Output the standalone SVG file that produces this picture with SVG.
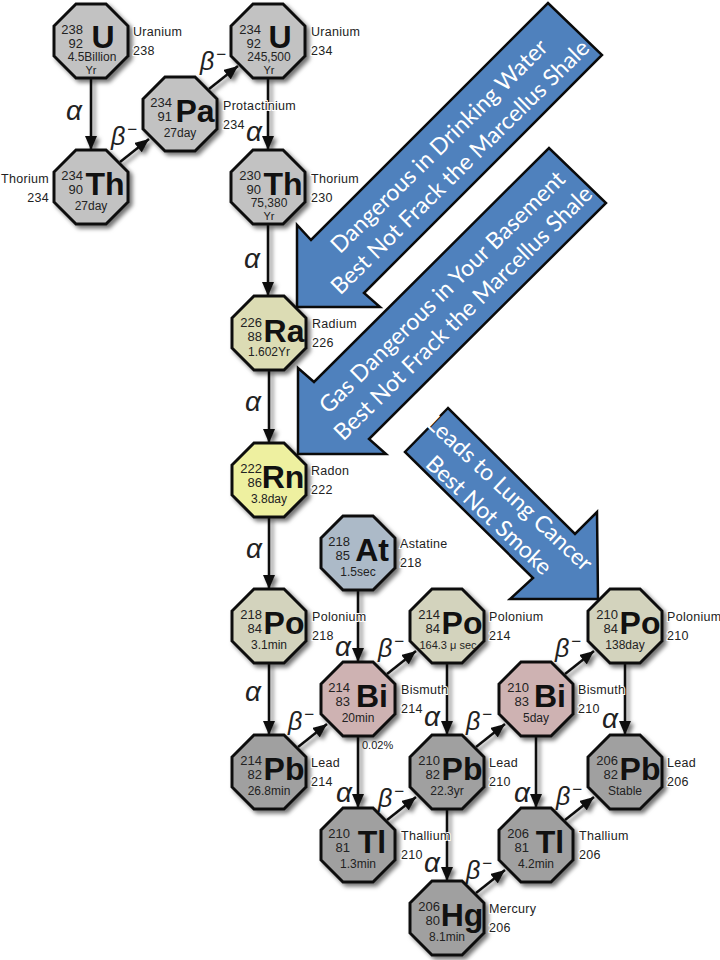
<svg xmlns="http://www.w3.org/2000/svg" width="720" height="960" viewBox="0 0 720 960">
<style>
text{font-family:"Liberation Sans",Arial,sans-serif;fill:#222}
.o{stroke:#111;stroke-width:3;stroke-linejoin:miter}
.gray{fill:#c2c2c2}.ra{fill:#dcdcb4}.rn{fill:#eef0a0}.po{fill:#d3d3bd}.at{fill:#acbac8}.bi{fill:#ceb2b2}.pb{fill:#a0a0a0}
.s{font-weight:bold;font-size:32px;text-anchor:middle;fill:#111}
.n{font-size:13px;text-anchor:end}
.h{font-size:12px;text-anchor:middle}
.y{font-size:11px;text-anchor:middle}
.l{font-size:12.5px;letter-spacing:.3px;paint-order:stroke;stroke:#fff;stroke-width:2px}
.le{text-anchor:end}
.g{font-size:28px;font-style:italic;fill:#222}
.b{font-size:25px;font-style:italic;fill:#222}
.b tspan{font-size:17px;font-style:normal}
.c line{stroke:#111;stroke-width:2.5;marker-end:url(#ah)}
.ar{fill:#4f81bd;stroke:#0a0a0a;stroke-width:2.5}
.t{font-family:Lato,"Open Sans",sans-serif;font-size:23px;fill:#fff;text-anchor:middle}
</style>
<defs>
<polygon id="oct" class="o" points="-15,-37 15,-37 37,-15 37,15 15,37 -15,37 -37,15 -37,-15"/>
<marker id="ah" viewBox="0 0 14 12" refX="14" refY="6" markerWidth="14" markerHeight="12" markerUnits="userSpaceOnUse" orient="auto"><path d="M0,0L14,6L0,12Z" fill="#111"/></marker>
<filter id="sh" x="-20%" y="-20%" width="150%" height="150%"><feDropShadow dx="3" dy="3" stdDeviation="2" flood-color="#000" flood-opacity=".55"/></filter>
</defs>
<rect width="720" height="960" fill="#fff"/>
<g id="connectors" class="c" filter="url(#sh)">
<line x1="91" y1="78" x2="91" y2="150"/>
<line x1="268" y1="78" x2="268" y2="150"/>
<line x1="268" y1="224" x2="268" y2="296"/>
<line x1="269" y1="370" x2="269" y2="443"/>
<line x1="269" y1="517" x2="269" y2="589"/>
<line x1="269" y1="663" x2="269" y2="735"/>
<line x1="358" y1="590" x2="358" y2="662"/>
<line x1="358" y1="736" x2="358" y2="808"/>
<line x1="447" y1="663" x2="447" y2="735"/>
<line x1="447" y1="809" x2="447" y2="881"/>
<line x1="536" y1="736" x2="536" y2="808"/>
<line x1="625" y1="663" x2="625" y2="735"/>
<line x1="120" y1="162" x2="149" y2="139"/>
<line x1="209" y1="89" x2="238" y2="66"/>
<line x1="298" y1="747" x2="327" y2="724"/>
<line x1="387" y1="674" x2="416" y2="651"/>
<line x1="387" y1="820" x2="416" y2="797"/>
<line x1="476" y1="747" x2="505" y2="724"/>
<line x1="565" y1="674" x2="594" y2="651"/>
<line x1="565" y1="820" x2="594" y2="797"/>
<line x1="476" y1="893" x2="505" y2="870"/>
</g>
<g id="decay-labels">
<text class="g" x="66" y="120">α</text>
<text class="g" x="246" y="141">α</text>
<text class="g" x="244" y="268">α</text>
<text class="g" x="245" y="411">α</text>
<text class="g" x="246" y="558">α</text>
<text class="g" x="245" y="701">α</text>
<text class="g" x="335" y="656">α</text>
<text class="g" x="336" y="802">α</text>
<text class="g" x="424" y="726">α</text>
<text class="g" x="424" y="872">α</text>
<text class="g" x="514" y="802">α</text>
<text class="g" x="602" y="728">α</text>
<text class="b" x="111" y="145">β<tspan dx="2" dy="-10">−</tspan></text>
<text class="b" x="200" y="70">β<tspan dx="2" dy="-10">−</tspan></text>
<text class="b" x="288" y="730">β<tspan dx="2" dy="-10">−</tspan></text>
<text class="b" x="378" y="657">β<tspan dx="2" dy="-10">−</tspan></text>
<text class="b" x="378" y="807">β<tspan dx="2" dy="-10">−</tspan></text>
<text class="b" x="466" y="730">β<tspan dx="2" dy="-10">−</tspan></text>
<text class="b" x="555" y="657">β<tspan dx="2" dy="-10">−</tspan></text>
<text class="b" x="556" y="805">β<tspan dx="2" dy="-10">−</tspan></text>
<text class="b" x="466" y="879">β<tspan dx="2" dy="-10">−</tspan></text>
</g>
<g id="u238" transform="translate(91 41)"><use href="#oct" class="gray" filter="url(#sh)"/><text class="n" x="-8" y="-7">238</text><text class="n" x="-8" y="7">92</text><text class="s" x="12" y="7">U</text><text class="h" x="1" y="20">4.5Billion</text><text class="y" x="0" y="33">Yr</text><text class="l" x="42" y="-5">Uranium</text><text class="l" x="42" y="14">238</text></g>
<g id="th234" transform="translate(91 187)"><use href="#oct" class="gray" filter="url(#sh)"/><text class="n" x="-8" y="-7">234</text><text class="n" x="-8" y="7">90</text><text class="s" x="14" y="8">Th</text><text class="h" x="0" y="23">27day</text><text class="l le" x="-42" y="-4">Thorium</text><text class="l le" x="-42" y="15">234</text></g>
<g id="pa234" transform="translate(180 114)"><use href="#oct" class="gray" filter="url(#sh)"/><text class="n" x="-8" y="-7">234</text><text class="n" x="-8" y="7">91</text><text class="s" x="15" y="8">Pa</text><text class="h" x="0" y="23">27day</text><text class="l" x="43" y="-4">Protactinium</text><text class="l" x="43" y="15">234</text></g>
<g id="u234" transform="translate(268 41)"><use href="#oct" class="gray" filter="url(#sh)"/><text class="n" x="-7" y="-7">234</text><text class="n" x="-7" y="7">92</text><text class="s" x="12" y="7">U</text><text class="h" x="1" y="20">245,500</text><text class="y" x="1" y="33">Yr</text><text class="l" x="43" y="-5">Uranium</text><text class="l" x="43" y="14">234</text></g>
<g id="th230" transform="translate(268 187)"><use href="#oct" class="gray" filter="url(#sh)"/><text class="n" x="-7" y="-7">230</text><text class="n" x="-7" y="7">90</text><text class="s" x="15" y="8">Th</text><text class="h" x="1" y="20">75,380</text><text class="y" x="1" y="33">Yr</text><text class="l" x="43" y="-4">Thorium</text><text class="l" x="43" y="15">230</text></g>
<g id="ra226" transform="translate(269 333)"><use href="#oct" class="ra" filter="url(#sh)"/><text class="n" x="-7" y="-6">226</text><text class="n" x="-7" y="8">88</text><text class="s" x="15" y="9">Ra</text><text class="h" x="0" y="23">1.602Yr</text><text class="l" x="43" y="-5">Radium</text><text class="l" x="43" y="14">226</text></g>
<g id="rn222" transform="translate(269 480)"><use href="#oct" class="rn" filter="url(#sh)"/><text class="n" x="-7" y="-7">222</text><text class="n" x="-7" y="7">86</text><text class="s" x="14" y="8">Rn</text><text class="h" x="0" y="23">3.8day</text><text class="l" x="42" y="-5">Radon</text><text class="l" x="42" y="14">222</text></g>
<g id="at218" transform="translate(358 553)"><use href="#oct" class="at" filter="url(#sh)"/><text class="n" x="-8" y="-7">218</text><text class="n" x="-8" y="7">85</text><text class="s" x="14" y="8">At</text><text class="h" x="0" y="23">1.5sec</text><text class="l" x="42" y="-5">Astatine</text><text class="l" x="42" y="14">218</text></g>
<g id="po218" transform="translate(269 626)"><use href="#oct" class="po" filter="url(#sh)"/><text class="n" x="-7" y="-7">218</text><text class="n" x="-7" y="7">84</text><text class="s" x="15" y="8">Po</text><text class="h" x="0" y="23">3.1min</text><text class="l" x="43" y="-5">Polonium</text><text class="l" x="43" y="14">218</text></g>
<g id="po214" transform="translate(447 626)"><use href="#oct" class="po" filter="url(#sh)"/><text class="n" x="-7" y="-7">214</text><text class="n" x="-7" y="7">84</text><text class="s" x="15" y="8">Po</text><text class="y" x="1" y="23">164.3 μ sec</text><text class="l" x="42" y="-5">Polonium</text><text class="l" x="42" y="14">214</text></g>
<g id="bi214" transform="translate(358 699)"><use href="#oct" class="bi" filter="url(#sh)"/><text class="n" x="-8" y="-7">214</text><text class="n" x="-8" y="7">83</text><text class="s" x="14" y="8">Bi</text><text class="h" x="0" y="23">20min</text><text class="l" x="43" y="-5">Bismuth</text><text class="l" x="43" y="14">214</text><text class="y" style="text-anchor:start" x="4" y="50">0.02%</text></g>
<g id="po210" transform="translate(625 626)"><use href="#oct" class="po" filter="url(#sh)"/><text class="n" x="-7" y="-7">210</text><text class="n" x="-7" y="7">84</text><text class="s" x="15" y="8">Po</text><text class="h" x="0" y="23">138day</text><text class="l" x="42" y="-5">Polonium</text><text class="l" x="42" y="14">210</text></g>
<g id="bi210" transform="translate(536 699)"><use href="#oct" class="bi" filter="url(#sh)"/><text class="n" x="-7" y="-7">210</text><text class="n" x="-7" y="7">83</text><text class="s" x="14" y="8">Bi</text><text class="h" x="0" y="23">5day</text><text class="l" x="42" y="-5">Bismuth</text><text class="l" x="42" y="14">210</text></g>
<g id="pb214" transform="translate(269 772)"><use href="#oct" class="pb" filter="url(#sh)"/><text class="n" x="-7" y="-7">214</text><text class="n" x="-7" y="7">82</text><text class="s" x="15" y="8">Pb</text><text class="h" x="0" y="23">26.8min</text><text class="l" x="42" y="-5">Lead</text><text class="l" x="42" y="14">214</text></g>
<g id="pb210" transform="translate(447 772)"><use href="#oct" class="pb" filter="url(#sh)"/><text class="n" x="-7" y="-7">210</text><text class="n" x="-7" y="7">82</text><text class="s" x="15" y="8">Pb</text><text class="h" x="0" y="23">22.3yr</text><text class="l" x="42" y="-5">Lead</text><text class="l" x="42" y="14">210</text></g>
<g id="pb206" transform="translate(625 772)"><use href="#oct" class="pb" filter="url(#sh)"/><text class="n" x="-7" y="-7">206</text><text class="n" x="-7" y="7">82</text><text class="s" x="15" y="8">Pb</text><text class="h" x="0" y="23">Stable</text><text class="l" x="42" y="-5">Lead</text><text class="l" x="42" y="14">206</text></g>
<g id="tl210" transform="translate(358 845)"><use href="#oct" class="pb" filter="url(#sh)"/><text class="n" x="-8" y="-7">210</text><text class="n" x="-8" y="7">81</text><text class="s" x="14" y="8">Tl</text><text class="h" x="0" y="23">1.3min</text><text class="l" x="43" y="-5">Thallium</text><text class="l" x="43" y="14">210</text></g>
<g id="tl206" transform="translate(536 845)"><use href="#oct" class="pb" filter="url(#sh)"/><text class="n" x="-7" y="-7">206</text><text class="n" x="-7" y="7">81</text><text class="s" x="14" y="8">Tl</text><text class="h" x="0" y="23">4.2min</text><text class="l" x="43" y="-5">Thallium</text><text class="l" x="43" y="14">206</text></g>
<g id="hg206" transform="translate(447 918)"><use href="#oct" class="pb" filter="url(#sh)"/><text class="n" x="-7" y="-7">206</text><text class="n" x="-7" y="7">80</text><text class="s" x="15" y="8">Hg</text><text class="h" x="0" y="23">8.1min</text><text class="l" x="42" y="-5">Mercury</text><text class="l" x="42" y="14">206</text></g>
<g id="arrow-water">
<polygon class="ar" points="297,307 297,225 311,240 548,3 602,55 364,293 380,307"/>
<text class="t" transform="rotate(-44.5 439 146)" x="439" y="154">Dangerous in Drinking Water</text>
<text class="t" transform="rotate(-44.5 460 167)" x="460" y="175">Best Not Frack the Marcellus Shale</text>
</g>
<g id="arrow-gas">
<polygon class="ar" points="298,454 298,368 314,382 549,148 606,203 369,439 386,454"/>
<text class="t" transform="rotate(-44.5 442 292)" x="442" y="300">Gas Dangerous in Your Basement</text>
<text class="t" transform="rotate(-44.5 463 313)" x="463" y="321">Best Not Frack the Marcellus Shale</text>
</g>
<g id="arrow-lung">
<polygon class="ar" points="448,408 405,452 533,578 510,599 598,599 597,512 575,534"/>
<text class="t" transform="rotate(43 510 493)" x="510" y="501">Leads to Lung Cancer</text>
<text class="t" transform="rotate(43 489 515)" x="489" y="523">Best Not Smoke</text>
</g>
</svg>
